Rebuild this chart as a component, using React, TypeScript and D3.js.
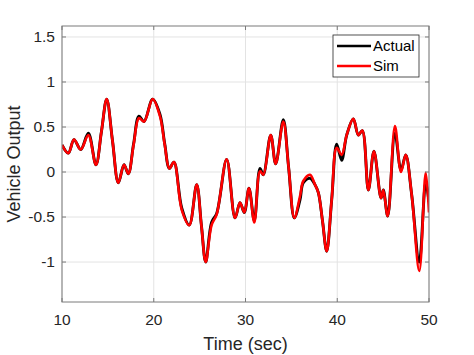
import React from "react";
import * as d3 from "d3";

const time = [10, 10.69, 11.31, 12.04, 12.87, 13.7, 14.3, 14.87, 15.5, 16.14, 16.76, 17.23, 17.8, 18.39, 18.94, 19.88, 20.68, 21.2, 21.7, 22.2, 23.05, 23.87, 24.68, 25.2, 25.66, 26.3, 26.86, 27.95, 28.86, 29.4, 29.87, 30.38, 30.96, 31.58, 31.94, 32.75, 33.29, 34.12, 34.7, 35.32, 35.94, 36.3, 37.03, 37.57, 37.94, 38.4, 38.85, 39.4, 39.94, 40.48, 41.03, 41.75, 42.3, 42.73, 43.39, 44.0, 44.77, 45.02, 45.5, 46.29, 46.95, 47.46, 48.11, 48.94, 49.64, 50];

const sim = [0.30, 0.21, 0.36, 0.25, 0.41, 0.08, 0.45, 0.81, 0.35, -0.12, 0.08, -0.02, 0.30, 0.60, 0.56, 0.81, 0.62, 0.30, 0.04, 0.11, -0.42, -0.59, -0.14, -0.60, -1.00, -0.59, -0.47, 0.14, -0.51, -0.34, -0.45, -0.18, -0.56, 0.01, -0.03, 0.41, 0.09, 0.56, 0.05, -0.51, -0.27, -0.10, -0.03, -0.14, -0.23, -0.55, -0.88, -0.30, 0.27, 0.19, 0.41, 0.59, 0.41, 0.46, -0.20, 0.23, -0.29, -0.20, -0.49, 0.51, 0.00, 0.19, -0.25, -1.10, -0.01, -0.45];

const actual = [0.30, 0.21, 0.36, 0.25, 0.43, 0.08, 0.45, 0.81, 0.35, -0.12, 0.08, -0.02, 0.31, 0.62, 0.56, 0.81, 0.64, 0.31, 0.04, 0.11, -0.40, -0.59, -0.14, -0.60, -1.00, -0.56, -0.46, 0.14, -0.51, -0.34, -0.45, -0.18, -0.54, 0.04, -0.03, 0.41, 0.09, 0.58, 0.05, -0.51, -0.31, -0.12, -0.07, -0.14, -0.23, -0.55, -0.88, -0.30, 0.31, 0.13, 0.41, 0.59, 0.41, 0.46, -0.20, 0.23, -0.29, -0.20, -0.49, 0.43, 0.02, 0.19, -0.25, -1.00, -0.12, -0.33];

const xTicks = [10, 20, 30, 40, 50];
const yTicks = [-1, -0.5, 0, 0.5, 1, 1.5];
const seriesNames = ["Actual", "Sim"];
const seriesColors = ["#000000", "#ff0000"];

export default function App() {
  const W = 474, H = 355;
  const L = 62, R = 429, T = 26, B = 302;
  const x = d3.scaleLinear().domain([10, 50]).range([L, R]);
  const y = d3.scaleLinear().domain([-1.444, 1.622]).range([B, T]);
  const line = d3
    .line<number>()
    .x((_, i) => x(time[i]))
    .y((d) => y(d))
    .curve(d3.curveCatmullRom.alpha(0.5));
  const font = "Arial, 'Liberation Sans', Helvetica, sans-serif";
  const axisColor = "#7a7a7a";
  const textColor = "#262626";
  const tickLen = 4;
  return (
    <svg width={W} height={H} style={{ position: "absolute", left: 0, top: 0, background: "#fff" }} fontFamily={font}>
      <rect x={0} y={0} width={W} height={H} fill="#fff" />
      {xTicks.map((t) => (
        <line key={"gx" + t} x1={x(t)} x2={x(t)} y1={T} y2={B} stroke="#e3e3e3" strokeWidth={1} />
      ))}
      {yTicks.map((t) => (
        <line key={"gy" + t} x1={L} x2={R} y1={y(t)} y2={y(t)} stroke="#e3e3e3" strokeWidth={1} />
      ))}
      <defs>
        <clipPath id="clip">
          <rect x={L} y={T} width={R - L} height={B - T} />
        </clipPath>
      </defs>
      <g clipPath="url(#clip)">
        <path d={line(actual) || ""} fill="none" stroke={seriesColors[0]} strokeWidth={2.9} strokeLinejoin="round" />
        <path d={line(sim) || ""} fill="none" stroke={seriesColors[1]} strokeWidth={2.6} strokeLinejoin="round" />
      </g>
      <rect x={L} y={T} width={R - L} height={B - T} fill="none" stroke={axisColor} strokeWidth={1} />
      {xTicks.map((t) => (
        <g key={"tx" + t}>
          <line x1={x(t)} x2={x(t)} y1={B} y2={B - tickLen} stroke={axisColor} />
          <line x1={x(t)} x2={x(t)} y1={T} y2={T + tickLen} stroke={axisColor} />
          <text x={x(t)} y={325} textAnchor="middle" fontSize={15.5} fill={textColor}>
            {t}
          </text>
        </g>
      ))}
      {yTicks.map((t) => (
        <g key={"ty" + t}>
          <line x1={L} x2={L + tickLen} y1={y(t)} y2={y(t)} stroke={axisColor} />
          <line x1={R} x2={R - tickLen} y1={y(t)} y2={y(t)} stroke={axisColor} />
          <text x={55} y={y(t)} dy="0.35em" textAnchor="end" fontSize={15.5} fill={textColor}>
            {t}
          </text>
        </g>
      ))}
      <text x={(L + R) / 2} y={350} textAnchor="middle" fontSize={18} fill={textColor}>
        Time (sec)
      </text>
      <text
        transform={`translate(20,${(T + B) / 2}) rotate(-90)`}
        textAnchor="middle"
        fontSize={18}
        fill={textColor}
      >
        Vehicle Output
      </text>
      <rect x={333} y={35} width={86} height={42} fill="#fff" stroke="#262626" strokeWidth={0.8} />
      {seriesNames.map((n, i) => (
        <g key={n}>
          <line x1={337} x2={371} y1={46 + i * 20} y2={46 + i * 20} stroke={seriesColors[i]} strokeWidth={2.5} />
          <text x={373} y={46 + i * 20} dy="0.35em" fontSize={15} fill="#000">
            {n}
          </text>
        </g>
      ))}
    </svg>
  );
}
